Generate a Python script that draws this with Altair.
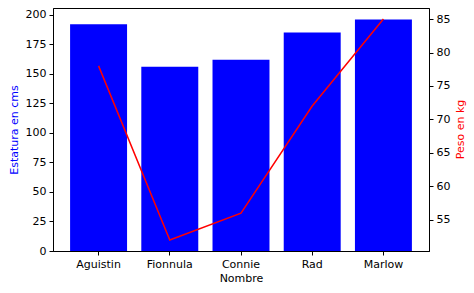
import altair as alt
import pandas as pd

nombres = ["Aguistin", "Fionnula", "Connie", "Rad", "Marlow"]
estatura = [192, 156, 162, 185, 196]
peso = [78, 52, 56, 72, 85]

df = pd.DataFrame({"Nombre": nombres, "Estatura": estatura, "Peso": peso})

FONT = "DejaVu Sans"

x_enc = alt.X(
    "Nombre:N",
    sort=nombres,
    scale=alt.Scale(paddingInner=0.2, paddingOuter=0.24),
    axis=alt.Axis(
        title="Nombre", labelAngle=0, tickSize=4, labelPadding=3,
        titlePadding=3, labelFontSize=11, titleFontSize=11,
        titleFontWeight="normal", domainColor="black", tickColor="black",
        labelColor="black", titleColor="black", labelFont=FONT, titleFont=FONT,
    ),
)

bars = alt.Chart(df).mark_bar(color="#0000ff").encode(
    x=x_enc,
    y=alt.Y(
        "Estatura:Q",
        scale=alt.Scale(domain=[0, 205.8], nice=False, zero=True),
        axis=alt.Axis(
            title="Estatura en cms", values=list(range(0, 201, 25)),
            tickSize=4, labelPadding=3, titlePadding=6, grid=False,
            labelFontSize=11, titleFontSize=11, titleFontWeight="normal",
            titleColor="#0000ff", labelColor="black", domainColor="black",
            tickColor="black", labelFont=FONT, titleFont=FONT,
        ),
    ),
)

line = alt.Chart(df).mark_line(color="#ff0000", strokeWidth=1.5).encode(
    x=alt.X("Nombre:N", sort=nombres),
    y=alt.Y(
        "Peso:Q",
        scale=alt.Scale(domain=[50.35, 86.65], nice=False, zero=False),
        axis=alt.Axis(
            title="Peso en kg", orient="right", values=list(range(55, 86, 5)),
            tickSize=4, labelPadding=3, grid=False,
            titleAngle=270, titleBaseline="middle", titleAlign="center",
            titleX=31, titleY=121,
            labelFontSize=11, titleFontSize=11, titleFontWeight="normal",
            titleColor="#ff0000", labelColor="black", domainColor="black",
            tickColor="black", labelFont=FONT, titleFont=FONT,
        ),
    ),
)

chart = (
    alt.layer(bars, line)
    .resolve_scale(y="independent")
    .properties(
        width=376, height=243,
        autosize=alt.AutoSizeParams(type="none"),
        padding={"left": 53, "top": 8, "right": 45, "bottom": 42},
        background="white",
    )
    .configure_view(stroke="black", strokeWidth=1)
)

chart.save("out.html", embed_options={"renderer": "svg", "actions": False})
